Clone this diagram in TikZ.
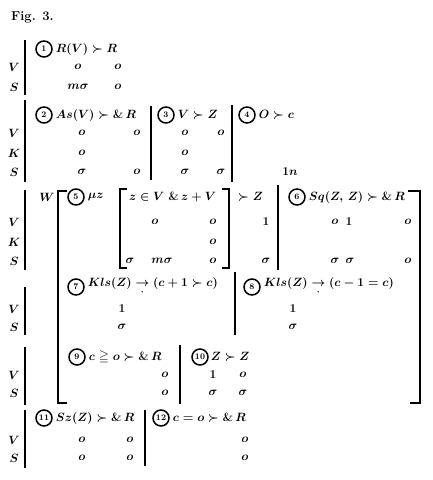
\documentclass[tikz,border=0pt]{standalone}
\usepackage{amsmath,amssymb}
\usepackage{tikz}
\usetikzlibrary{positioning}
\newcommand{\dotarr}{\mathrel{\underset{\cdot}{\rightarrow}}}
\tikzset{
  every node/.style={inner sep=0pt, font=\fontsize{13}{15}\selectfont\boldmath},
  num/.style={draw, circle, line width=1.5pt, minimum size=16pt,
    font=\fontsize{8.5}{9}\selectfont\bfseries},
  lbar/.style={line width=2.4pt},
  sep/.style={line width=1.6pt},
  brk/.style={line width=2.8pt}
  }

\begin{document}
\begin{tikzpicture}[x=1pt,y=-1pt]
    \useasboundingbox (0,0) rectangle (433,480);
    \node[anchor=west, font=\fontsize{13}{15}\selectfont\bfseries] (fig) at (11,17) {Fig. 3.};
    \foreach \y/\t in {67/V,87/S,133/V,153/K,172/S,222/V,242/K,261/S,
                       309/V,327/S,375/V,393/S,440/V,458/S}
      \node (l\y) at (14,\y) {$\t$};
    \foreach \a/\b in {40/95,100/182,190/270,287/335,347/405,410/468}
      \draw[lbar] (25,\a) -- (25,\b);
    % 1
    \node[num] (n1) at (44,49) {1};
    \node[right=3pt of n1] (f1) {$R(V)\succ R$};
    \foreach \x/\y/\t in {78/67/o,118/67/o,78/87/m\sigma,118/87/o}
      \node (e\x-\y) at (\x,\y) {$\t$};
    % 2, 3, 4
    \node[num] (n2) at (44,115) {2};
    \node[right=3pt of n2] (f2) {$As(V)\succ\&\,R$};
    \draw[sep] (151,106) -- (151,180);
    \node[num] (n3) at (166,115) {3};
    \node[right=3pt of n3] (f3) {$V\succ Z$};
    \draw[sep] (232,105) -- (232,182);
    \node[num] (n4) at (247,115) {4};
    \node[right=3pt of n4] (f4) {$O\succ c$};
    \foreach \x/\y/\t in {82/133/o,82/153/o,82/172/\sigma,137/133/o,137/172/o,
                          185/133/o,185/153/o,185/172/\sigma,221/133/o,221/172/\sigma,
                          290/172/1n}
      \node (e\x-\y) at (\x,\y) {$\t$};
    % W
    \node (w) at (47,197) {$W$};
    \draw[brk] (67,191) -- (58,191) -- (58,403) -- (67,403);
    \draw[brk] (408,191) -- (420,191) -- (420,403) -- (410,403);
    % 5, 6
    \node[num] (n5) at (76,197) {5};
    \node[right=3pt of n5] (f5) {$\mu z$};
    \draw[brk] (127,189) -- (120,189) -- (120,268) -- (127,268);
    \node[anchor=west] (f5a) at (129,197) {$z\in V\;\&\,z+V$};
    \draw[brk] (222,189) -- (229,189) -- (229,268) -- (222,268);
    \node[anchor=west] (f5b) at (238,197) {$\succ Z$};
    \draw[sep] (278,185) -- (278,270);
    \node[num] (n6) at (297,197) {6};
    \node[right=3pt of n6] (f6) {$Sq(Z,\,Z)\succ\&\,R$};
    \foreach \x/\y/\t in {155/222/o,213/222/o,266/222/1,335/222/o,349/222/1,408/222/o,
                          213/242/o,
                          130/261/\sigma,162/261/m\sigma,213/261/o,266/261/\sigma,
                          335/261/\sigma,350/261/\sigma,408/261/o}
      \node (e\x-\y) at (\x,\y) {$\t$};
    % 7, 8
    \node[num] (n7) at (76,287) {7};
    \node[right=3pt of n7] (f7) {$Kls(Z)\dotarr(c+1\succ c)$};
    \draw[sep] (235,272) -- (235,335);
    \node[num] (n8) at (252,287) {8};
    \node[right=3pt of n8] (f8) {$Kls(Z)\dotarr(c-1=c)$};
    \foreach \x/\y/\t in {122/309/1,122/327/\sigma,293/309/1,293/327/\sigma}
      \node (e\x-\y) at (\x,\y) {$\t$};
    % 9, 10
    \node[num] (n9) at (77,357) {9};
    \node[right=3pt of n9] (f9) {$c\geqq o\succ\&\,R$};
    \draw[sep] (180,345) -- (180,404);
    \node[num] (n10) at (200,357) {10};
    \node[right=2pt of n10] (f10) {$Z\succ Z$};
    \foreach \x/\y/\t in {165/375/o,165/393/o,213/375/1,243/375/o,213/393/\sigma,243/393/\sigma}
      \node (e\x-\y) at (\x,\y) {$\t$};
    % 11, 12
    \node[num] (n11) at (44,418) {11};
    \node[right=3pt of n11] (f11) {$Sz(Z)\succ\&\,R$};
    \draw[sep] (145,410) -- (145,466);
    \node[num] (n12) at (161,418) {12};
    \node[right=3pt of n12] (f12) {$c=o\succ\&\,R$};
    \foreach \x/\y/\t in {82/440/o,130/440/o,82/458/o,130/458/o,245/440/o,245/458/o}
      \node (e\x-\y) at (\x,\y) {$\t$};
  \end{tikzpicture}
\end{document}
